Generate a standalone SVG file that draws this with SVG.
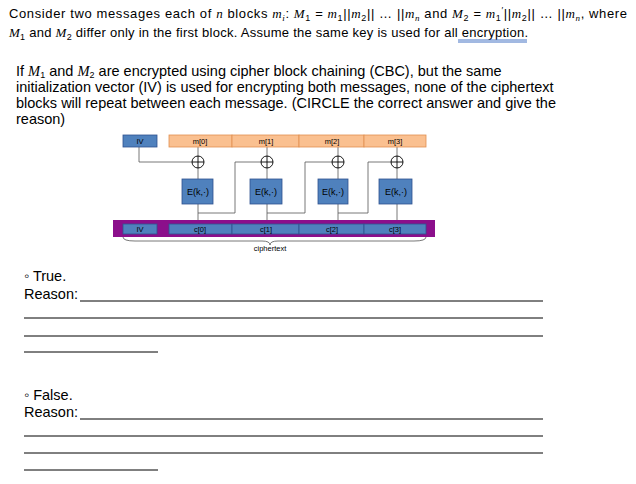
<svg xmlns="http://www.w3.org/2000/svg" width="636" height="484" viewBox="0 0 636 484">
<style>
.t{font-family:"Liberation Sans",Arial,sans-serif;font-size:14.5px;fill:#000}
.c{font-family:"Liberation Sans",Arial,sans-serif;font-size:13px;fill:#000}
.m{font-family:"Liberation Serif",serif;font-style:italic}
.s{font-family:"Liberation Sans",Arial,sans-serif;font-size:7.5px;fill:#000;text-anchor:middle}
.e{font-family:"Liberation Sans",Arial,sans-serif;font-size:9px;fill:#000;text-anchor:middle}
.blue{fill:#4f81bd;stroke:#2f528f;stroke-width:0.8}
.or{fill:#fac090;stroke:#e09050;stroke-width:0.8}
.ln{stroke:#000;stroke-width:1;fill:none}
.w{stroke:#555;stroke-width:0.8;fill:none}
</style>
<rect width="636" height="484" fill="#fff"/>
<text class="c" x="9" y="18" textLength="618" lengthAdjust="spacing">Consider two messages each of <tspan class="m">n</tspan> blocks <tspan class="m">m<tspan font-size="9" dy="3">i</tspan></tspan><tspan dy="-3">: </tspan><tspan class="m">M</tspan><tspan font-size="9" dy="3">1</tspan><tspan dy="-3"> = </tspan><tspan class="m">m</tspan><tspan font-size="9" dy="3">1</tspan><tspan dy="-3">||</tspan><tspan class="m">m</tspan><tspan font-size="9" dy="3">2</tspan><tspan dy="-3">|| … ||</tspan><tspan class="m">m<tspan font-size="9" dy="3">n</tspan></tspan><tspan dy="-3"> and </tspan><tspan class="m">M</tspan><tspan font-size="9" dy="3">2</tspan><tspan dy="-3"> = </tspan><tspan class="m">m</tspan><tspan font-size="9" dy="3">1</tspan><tspan font-size="9" dy="-8">′</tspan><tspan dy="5">||</tspan><tspan class="m">m</tspan><tspan font-size="9" dy="3">2</tspan><tspan dy="-3">|| … ||</tspan><tspan class="m">m<tspan font-size="9" dy="3">n</tspan></tspan><tspan dy="-3">, where</tspan></text>
<text class="c" x="9" y="37" textLength="519" lengthAdjust="spacing"><tspan class="m">M</tspan><tspan font-size="9" dy="3">1</tspan><tspan dy="-3"> and </tspan><tspan class="m">M</tspan><tspan font-size="9" dy="3">2</tspan><tspan dy="-3"> differ only in the first block. Assume the same key is used for all encryption.</tspan></text>
<line x1="458" y1="40" x2="527" y2="40" stroke="#4472c4" stroke-width="1"/>
<line x1="458" y1="42" x2="527" y2="42" stroke="#4472c4" stroke-width="1"/>
<text class="t" x="16" y="76">If <tspan class="m">M</tspan><tspan font-size="9" dy="2">1</tspan><tspan dy="-2"> and </tspan><tspan class="m">M</tspan><tspan font-size="9" dy="2">2</tspan><tspan dy="-2"> are encrypted using cipher block chaining (CBC), but the same</tspan></text>
<text class="t" x="16" y="92">initialization vector (IV) is used for encrypting both messages, none of the ciphertext</text>
<text class="t" x="16" y="108">blocks will repeat between each message. (CIRCLE the correct answer and give the</text>
<text class="t" x="16" y="124">reason)</text>
<g id="connectors">
<path class="w" d="M139,147 V162 H192"/>
<path class="w" d="M198,147 V156 M198,168 V179 M198,204 V224 M198,213 H235 V162 H261"/>
<path class="w" d="M267,147 V156 M267,168 V179 M267,204 V224 M267,213 H305 V162 H332"/>
<path class="w" d="M338,147 V156 M338,168 V179 M338,204 V224 M338,213 H368 V162 H391"/>
<path class="w" d="M397,147 V156 M397,168 V179 M397,204 V224"/>
</g>
<g id="cipher-band"><rect x="113" y="220" width="322" height="17" fill="#8b0f8b"/></g>
<g id="iv-top"><rect class="blue" x="123" y="135" width="34" height="12"/><text class="s" x="140" y="144">IV</text></g>
<g id="m-blocks">
<rect class="or" x="169" y="135" width="63" height="12"/><text class="s" x="200" y="144">m[0]</text>
<rect class="or" x="232" y="135" width="67" height="12"/><text class="s" x="266" y="144">m[1]</text>
<rect class="or" x="299" y="135" width="65" height="12"/><text class="s" x="332" y="144">m[2]</text>
<rect class="or" x="364" y="135" width="62" height="12"/><text class="s" x="395" y="144">m[3]</text>
</g>
<g id="xors" fill="#fff" stroke="#000" stroke-width="0.9">
<circle cx="198" cy="162" r="6"/><path d="M192,162h12M198,156v12"/>
<circle cx="267" cy="162" r="6"/><path d="M261,162h12M267,156v12"/>
<circle cx="338" cy="162" r="6"/><path d="M332,162h12M338,156v12"/>
<circle cx="397" cy="162" r="6"/><path d="M391,162h12M397,156v12"/>
</g>
<g id="enc">
<rect class="blue" x="182" y="179" width="31" height="25"/><text class="e" x="198" y="195">E(k,·)</text>
<rect class="blue" x="250" y="179" width="32" height="25"/><text class="e" x="266" y="195">E(k,·)</text>
<rect class="blue" x="318" y="179" width="30" height="25"/><text class="e" x="333" y="195">E(k,·)</text>
<rect class="blue" x="379" y="179" width="33" height="25"/><text class="e" x="396" y="195">E(k,·)</text>
</g>
<g id="c-blocks">
<rect class="blue" x="123" y="224" width="34" height="10"/><text class="s" x="140" y="232">IV</text>
<rect class="blue" x="169" y="224" width="63" height="10"/><text class="s" x="200" y="232">c[0]</text>
<rect class="blue" x="232" y="224" width="67" height="10"/><text class="s" x="266" y="232">c[1]</text>
<rect class="blue" x="299" y="224" width="65" height="10"/><text class="s" x="332" y="232">c[2]</text>
<rect class="blue" x="364" y="224" width="62" height="10"/><text class="s" x="395" y="232">c[3]</text>
</g>
<g id="brace"><path class="w" d="M123,237 Q123,241 135,241 H262 Q270,241 270,245 Q270,241 278,241 H414 Q426,241 426,237"/><text class="s" x="270" y="251">ciphertext</text></g>
<g id="answers">
<text class="t" x="24" y="281">◦ True.</text>
<text class="t" x="24" y="299">Reason:</text>
<path class="ln" d="M80,301H543M24,318H543M24,336H543M24,352H158"/>
<text class="t" x="24" y="400">◦ False.</text>
<text class="t" x="24" y="417">Reason:</text>
<path class="ln" d="M80,419H543M24,436H543M24,453H543M24,470H158"/>
</g>
</svg>
